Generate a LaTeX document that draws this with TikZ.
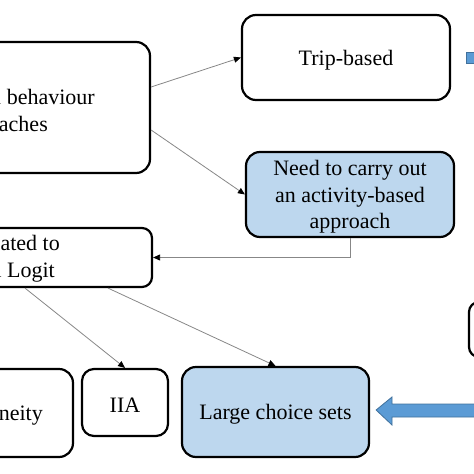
\documentclass[tikz,border=0pt]{standalone}
\usepackage{fontspec}
\setmainfont{Liberation Serif}
\usetikzlibrary{arrows.meta,calc}
\definecolor{boxblue}{HTML}{BDD7EE}
\definecolor{arrblue}{HTML}{5B9BD5}
\definecolor{arredge}{HTML}{41719C}
\definecolor{linegray}{RGB}{135,135,135}
\begin{document}
\begin{tikzpicture}[x=1pt,y=-1pt,
  every node/.style={font=\fontsize{22}{26.5}\selectfont},
  box/.style={draw=black,line width=2.2pt,rounded corners=14pt,inner sep=0pt,align=center},
  bluebox/.style={box,fill=boxblue},
  intext/.style={label={[inner sep=0pt,align=center,yshift=-2.5pt]center:#1}},
  txt/.style={inner sep=0pt,anchor=base east},
  conn/.style={draw=linegray,line width=0.8pt,-{Triangle[length=7pt,width=6pt,color=black]}},
  blockarrow/.style={fill=arrblue,draw=arredge,line width=0.8pt}]
\useasboundingbox (0,0) rectangle (474,474);
% boxes
\node[box,minimum width=261pt,minimum height=131pt] (beh) at (19.5,107.5) {};
\node[txt] (behA) at (95,104) {Travel behaviour};
\node[txt] (behB) at (48,131) {approaches};
\node[box,minimum width=208pt,minimum height=85pt,intext={Trip-based}] (trip) at (346,57.5) {};
\node[bluebox,minimum width=208pt,minimum height=85pt,intext={Need to carry out\\an activity-based\\approach}] (need) at (350,194.5) {};
\node[box,rounded corners=10pt,minimum width=302pt,minimum height=59pt] (logit) at (1,257.5) {};
\node[txt] (logA) at (60,250) {Issues related to};
\node[txt] (logB) at (55,277) {Multinomial Logit};
\node[box,minimum width=185pt,minimum height=88pt,intext={Heterogeneity}] (het) at (-19.5,413) {};
\node[box,rounded corners=12pt,minimum width=86pt,minimum height=67pt,intext={IIA}] (iia) at (125,402.5) {};
\node[bluebox,minimum width=187pt,minimum height=90pt,intext={Large choice sets}] (large) at (275.5,412) {};
\node[box,rounded corners=10pt,minimum width=90pt,minimum height=55pt] (right) at (514,329.5) {};
% connectors
\draw[conn] ($(beh.east)+(0,-20.5)$) -- (trip.west);
\draw[conn] ($(beh.east)+(0,22.5)$) -- (need.west);
\draw[conn] (need.south) |- (logit.east);
\draw[conn] ($(logit.south)+(24,0)$) -- (iia.north);
\draw[conn] ($(logit.south)+(107,0)$) -- (large.north);
% block arrows
\draw[blockarrow] (466,52) rectangle (480,63);
\draw[blockarrow] ($(large.east)+(6,-2)$) -- (392,397) -- (392,404) -- (480,404) -- (480,417) -- (392,417) -- (392,425) -- cycle;
\end{tikzpicture}
\end{document}
